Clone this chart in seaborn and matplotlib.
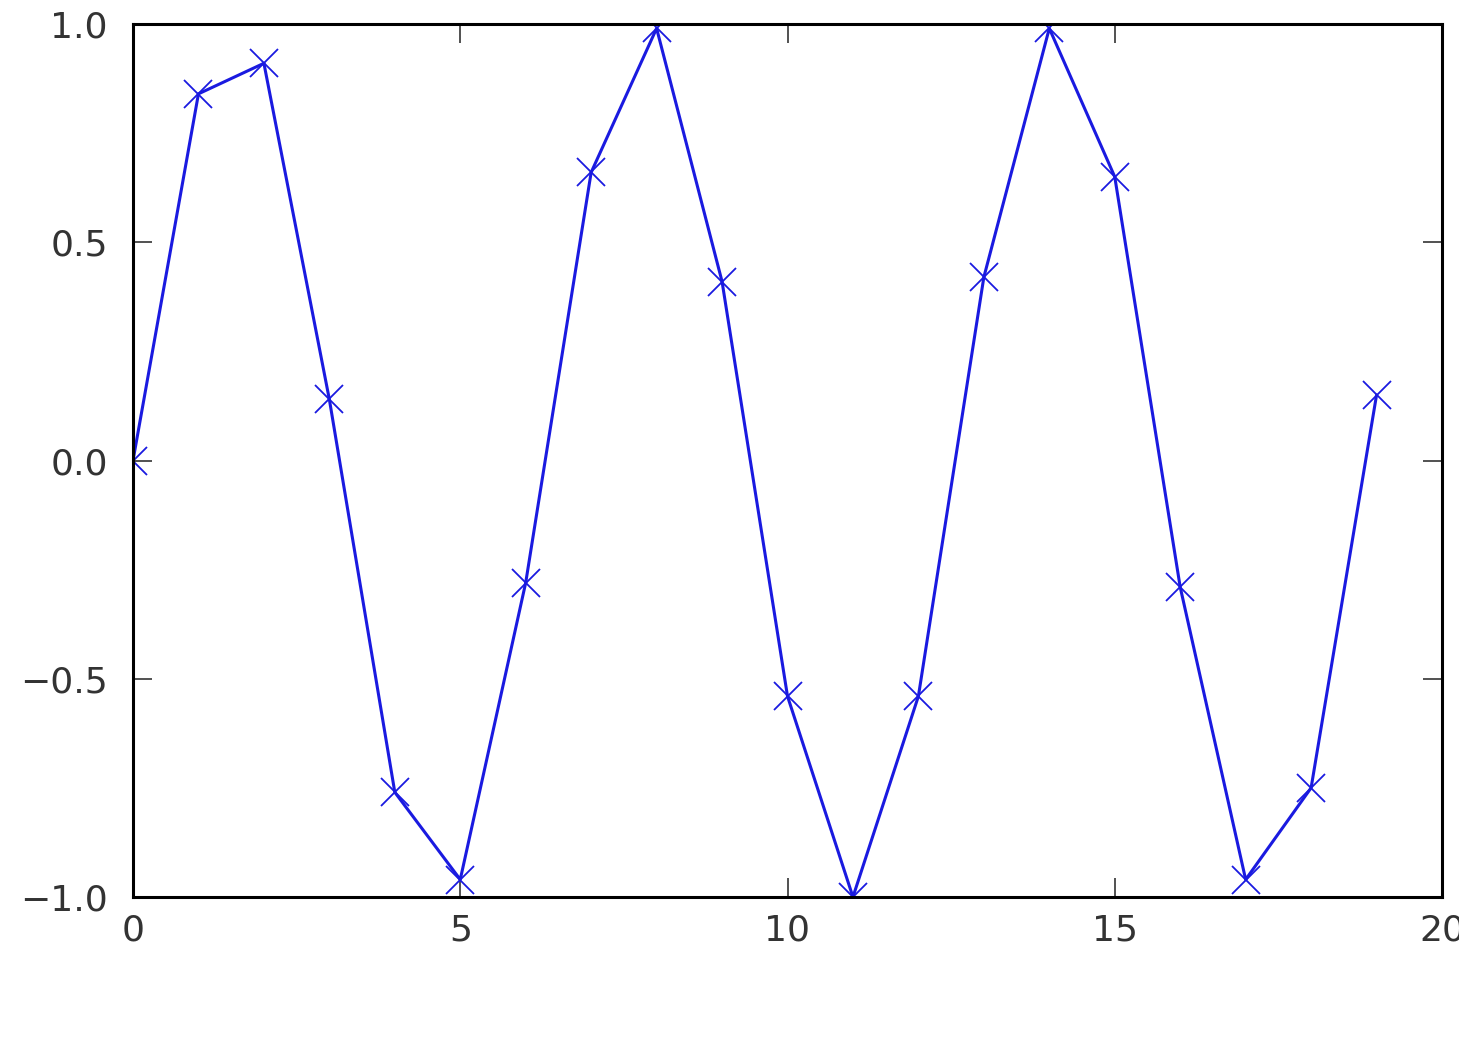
import matplotlib
matplotlib.use("Agg")
import matplotlib.pyplot as plt
import seaborn as sns
import pandas as pd

x_vals = list(range(20))
y_vals = [0.0, 0.84, 0.91, 0.14, -0.76, -0.96, -0.28, 0.66, 0.99, 0.41,
          -0.54, -1.0, -0.54, 0.42, 0.99, 0.65, -0.29, -0.96, -0.75, 0.15]
x_ticks = [0, 5, 10, 15, 20]
y_ticks = [-1.0, -0.5, 0.0, 0.5, 1.0]

sns.set_style("white")
plt.rcParams['font.family'] = ['DejaVu Sans']

df = pd.DataFrame({"x": x_vals, "y": y_vals})

fig = plt.figure(figsize=(14.59, 10.41), dpi=100)
ax = fig.add_axes([133/1459, 1-897/1041, (1442-133)/1459, (897-24)/1041])
sns.lineplot(data=df, x="x", y="y", ax=ax, color="#1a1ae0", linewidth=2.2,
             marker="x", markersize=20, markeredgewidth=1.3,
             markeredgecolor="#1a1ae0")
ax.set_xlim(0, 20)
ax.set_ylim(-1, 1)
ax.set_xticks(x_ticks)
ax.set_yticks(y_ticks)
ax.set_xlabel("")
ax.set_ylabel("")
ax.tick_params(direction="in", length=14, width=1.2, labelsize=26,
               top=True, right=True, bottom=True, left=True,
               colors="#333333", labelcolor="#333333")
ax.tick_params(axis="x", pad=12)
ax.tick_params(axis="y", pad=18)
for s in ax.spines.values():
    s.set_visible(True)
    s.set_color("black")
    s.set_linewidth(2.2)

fig.savefig("out.png", dpi=100)
